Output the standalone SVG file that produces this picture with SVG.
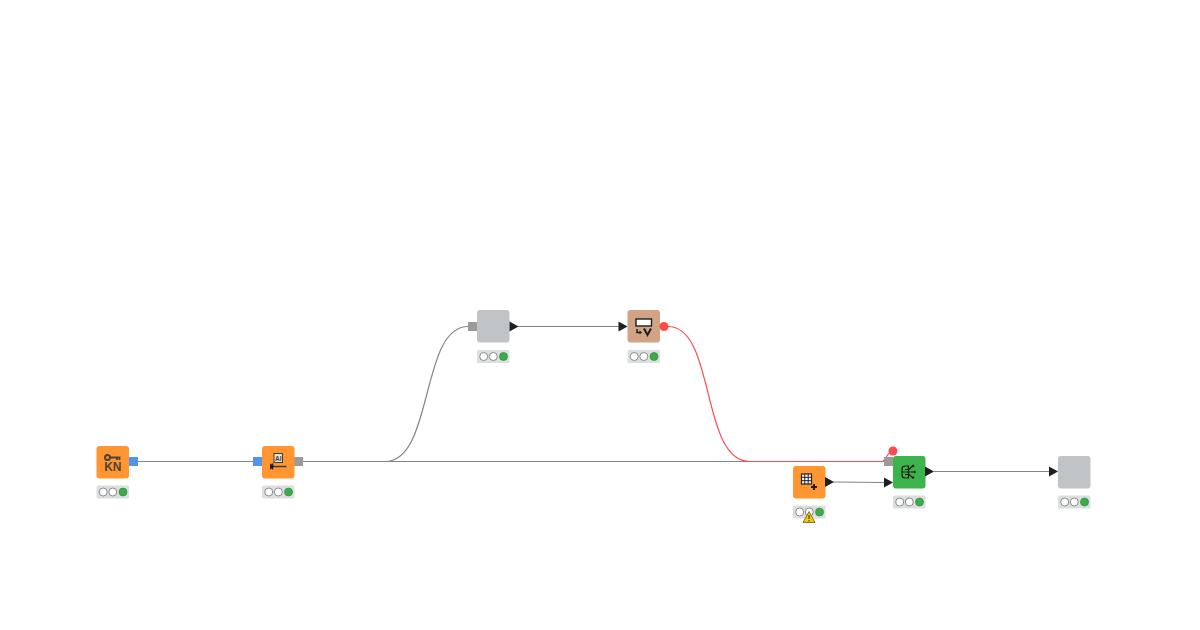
<svg xmlns="http://www.w3.org/2000/svg" width="1200" height="630" viewBox="0 0 1200 630">
<style>
.o{fill:#ff9632}.g{fill:#c0c4c6}.t{fill:#d2a384}.p{fill:#3cb44b}
.c{fill:none;stroke:#858585;stroke-width:1.200}
.r{fill:none;stroke:#ff4b4b;stroke-width:1.200}
.k{fill:#1f1f1f}
.i{fill:none;stroke:#1f1f1f;stroke-width:1.300}
.b{fill:#dcdfe0}
.w{fill:#fff;stroke:#8a8a8a;stroke-width:1}
.s{fill:#3cab4b;stroke:#2f8f3d;stroke-width:.7}
.bp{fill:#5094f0}.gp{fill:#9a9a9a}
</style>
<defs>
<g id="st"><rect class="b" width="32.500" height="13" rx="1.500"/><circle class="w" cx="6.700" cy="6.500" r="4"/><circle class="w" cx="16.300" cy="6.500" r="4"/><circle class="s" cx="26.500" cy="6.500" r="4"/></g>
<path id="ar" d="M0 -5L9 0L0 5Z" class="k"/>
</defs>
<rect width="1200" height="630" fill="#fff"/>
<g id="connectors">
<path class="c" d="M138 461.500H253"/>
<path class="c" d="M303 461.500H385C434 461.500 420 326.500 468 326.500"/>
<path class="c" d="M303 461.500H884"/>
<path class="c" d="M518 326.500H619"/>
<path class="r" d="M668 326.500C716 326.500 700 461.500 750 461.500H882C886 461.500 887 451 893 451"/>
<path class="c" d="M833 482L885 482.500"/>
<path class="c" d="M934 471.500H1050"/>
</g>
<g id="node-1">
<rect class="o" x="96.500" y="446" width="32.500" height="32.500" rx="3"/>
<rect class="bp" x="129" y="457" width="9" height="9"/>
<circle cx="107.500" cy="457.500" r="2.500" fill="none" stroke="#4f4336" stroke-width="2"/>
<path d="M110 457.500H120.500M117 457.500V460M119.500 457.500V460" fill="none" stroke="#4f4336" stroke-width="1.800"/>
<text x="112.800" y="471" font-family="Liberation Sans, sans-serif" font-size="12" font-weight="700" fill="#4f4336" text-anchor="middle">KN</text>
<use href="#st" x="96.500" y="485.500"/>
</g>
<g id="node-2">
<rect class="bp" x="253" y="457" width="9" height="9"/>
<rect class="gp" x="294" y="457" width="9" height="9"/>
<rect class="o" x="262" y="446" width="32.500" height="32.500" rx="3"/>
<rect x="274" y="453.500" width="8.500" height="9" fill="#e8e2d8" stroke="#3a3a3a"/>
<text x="278.200" y="460.800" font-family="Liberation Sans, sans-serif" font-size="6.500" font-weight="700" fill="#3a3a3a" text-anchor="middle">AI</text>
<path d="M270 463.500V469.500L274.500 466.500Z" class="k"/>
<path d="M272.500 463.500V469.500" stroke="#1f1f1f" stroke-width="1.600" fill="none"/>
<path d="M274 466.500H286.500" stroke="#3a3a3a" stroke-width="1.500" fill="none"/>
<use href="#st" x="262" y="485.500"/>
</g>
<g id="node-3">
<rect class="gp" x="468" y="322" width="9" height="9"/>
<rect class="g" x="477" y="310" width="32.500" height="32.500" rx="3"/>
<use href="#ar" x="509.500" y="326.500"/>
<use href="#st" x="477" y="350"/>
</g>
<g id="node-4">
<use href="#ar" x="618.500" y="326.500"/>
<rect class="t" x="627.500" y="310" width="32.500" height="32.500" rx="3"/>
<circle cx="664" cy="326.500" r="4.500" fill="#ff4b4b"/>
<rect x="636" y="319" width="15.500" height="7" fill="#fff" stroke="#1f1f1f" stroke-width="1.400"/>
<path d="M637 329V332.500H640.500" stroke="#1f1f1f" stroke-width="1.500" fill="none"/>
<path d="M639.500 330.500L642 332.500L639.500 334.500Z" class="k"/>
<path d="M644 328.500L647.500 335L651 328.500" fill="none" stroke="#1f1f1f" stroke-width="2"/>
<use href="#st" x="627.500" y="350"/>
</g>
<g id="node-5">
<rect class="o" x="793" y="466" width="32.500" height="32.500" rx="3"/>
<use href="#ar" x="825" y="482"/>
<rect x="801.500" y="474" width="10" height="10" fill="#fff" stroke="#1f1f1f" stroke-width="1.200"/>
<path d="M804.800 474V484M808.200 474V484M801.500 477.300H811.500M801.500 480.700H811.500" fill="none" stroke="#1f1f1f"/>
<path d="M811 487H817M814 484V490" fill="none" stroke="#1f1f1f" stroke-width="2"/>
<use href="#st" x="793" y="505.500"/>
<path d="M809 511.500L815 522.500H803Z" fill="#f2c813" stroke="#6b5a1a" stroke-width=".8"/>
<path d="M809 515V519M809 520V521.500" stroke="#3a3000" stroke-width="1" fill="none"/>
</g>
<g id="node-6">
<rect class="gp" x="884" y="457" width="9" height="9"/>
<circle cx="893" cy="451" r="4.500" fill="#ff4b4b"/>
<use href="#ar" x="884" y="482.500"/>
<rect class="p" x="893" y="456" width="32.500" height="32.500" rx="3"/>
<use href="#ar" x="925" y="471.500"/>
<path d="M908.500 466H905Q902 466 902 469V475Q902 478 905 478H908.500ZM902 472H908.500M905 469.500H908.500M905 474.500H908.500" fill="none" stroke="#1f1f1f" stroke-width="1.200"/>
<path d="M908.500 470L912 466.500M908.500 472H913M908.500 474L912 477" fill="none" stroke="#1f1f1f" stroke-width="1.100"/>
<circle class="k" cx="913" cy="466" r="1.300"/><circle class="k" cx="914.500" cy="472" r="1.300"/><circle class="k" cx="913" cy="477.500" r="1.300"/>
<use href="#st" x="893" y="495.500"/>
</g>
<g id="node-7">
<use href="#ar" x="1049" y="471.500"/>
<rect class="g" x="1058" y="456" width="32.500" height="32.500" rx="3"/>
<use href="#st" x="1058" y="495.500"/>
</g>
</svg>
